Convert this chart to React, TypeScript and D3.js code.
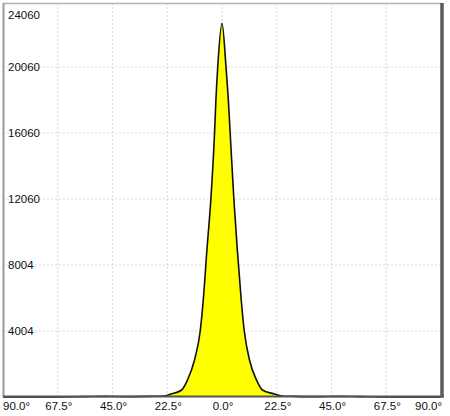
import React from 'react';
import * as d3 from 'd3';

// angular distribution (degrees) and counts
const angles = [-90, -70, -56, -48, -40, -30, -24, -21, -16.6, -14.2, -11.3, -8.9, -7.7, -6.2, -4.6, -3.1, -2.5, -1.8, 0,
  1.7, 2.6, 3.4, 4.9, 6.3, 7.9, 9.1, 11.3, 14.2, 16.6, 21.6, 24.5, 30, 40, 48, 56, 70, 90];
const counts = [0, 0, 25, 40, 20, 40, 60, 180, 425, 1030, 2250, 4070, 5890, 8930, 11970, 15920, 18050, 19930, 22700,
  19930, 18050, 15920, 11970, 8930, 5890, 4070, 2250, 1030, 425, 180, 60, 40, 20, 40, 25, 0, 0];

const xTicks = [-90, -67.5, -45, -22.5, 0, 22.5, 45, 67.5, 90];
const xTickLabels = ['90.0°', '67.5°', '45.0°', '22.5°', '0.0°', '22.5°', '45.0°', '67.5°', '90.0°'];
const yTicks = [4010, 8020, 12030, 16040, 20050, 24060];
const yTickLabels = ['4004', '8004', '12060', '16060', '20060', '24060'];

const W = 450;
const H = 416;

export default function App() {
  const x = d3.scaleLinear().domain([-90, 90]).range([3, 441]);
  const y = d3.scaleLinear().domain([0, 24060]).range([397, 1]);

  const pts = angles.map((a, i) => [a, counts[i]] as [number, number]);
  const area = d3.area<[number, number]>()
    .x(d => x(d[0]))
    .y0(y(0))
    .y1(d => y(d[1]))
    .curve(d3.curveMonotoneX);
  const line = d3.line<[number, number]>()
    .x(d => x(d[0]))
    .y(d => y(d[1]))
    .curve(d3.curveMonotoneX);

  const font = 'Liberation Sans, Arial, sans-serif';

  return (
    <svg width={W} height={H} style={{ position: 'absolute', left: 0, top: 0, background: '#fff' }}>
      {/* grid */}
      <g stroke="#d6d6d6" strokeWidth={1} strokeDasharray="2,2">
        {xTicks.slice(1, -1).map(t => (
          <line key={'gx' + t} x1={x(t)} x2={x(t)} y1={3} y2={396} />
        ))}
        {yTicks.slice(0, -1).map(t => (
          <line key={'gy' + t} x1={3} x2={441} y1={y(t)} y2={y(t)} />
        ))}
      </g>

      {/* distribution */}
      <path d={area(pts) || ''} fill="#ffff00" />
      <path d={line(pts) || ''} fill="none" stroke="#111" strokeWidth={1.6} strokeLinejoin="round" />

      {/* frame */}
      <line x1={3} x2={441} y1={3.5} y2={3.5} stroke="#b4b4b4" strokeWidth={1.5} />
      <line x1={3.5} x2={3.5} y1={3} y2={397} stroke="#9a9a9a" strokeWidth={2} />
      <line x1={3} x2={444} y1={396.5} y2={396.5} stroke="#555" strokeWidth={2} />
      <line x1={442} x2={442} y1={3} y2={397.5} stroke="#5a5a5a" strokeWidth={3.5} />

      {/* y labels */}
      <g fontFamily={font} fontSize={11.5} fill="#111">
        {yTicks.map((t, i) => (
          <text key={'yl' + t} x={8} y={i === yTicks.length - 1 ? 19 : y(t) + 4}>{yTickLabels[i]}</text>
        ))}
      </g>

      {/* x labels */}
      <g fontFamily={font} fontSize={11.5} fill="#111">
        {xTicks.map((t, i) => (
          <text key={'xl' + i}
            x={i === 0 ? 3 : i === xTicks.length - 1 ? 442 : x(t) + 1}
            y={410}
            textAnchor={i === 0 ? 'start' : i === xTicks.length - 1 ? 'end' : 'middle'}>
            {xTickLabels[i]}
          </text>
        ))}
      </g>
    </svg>
  );
}
